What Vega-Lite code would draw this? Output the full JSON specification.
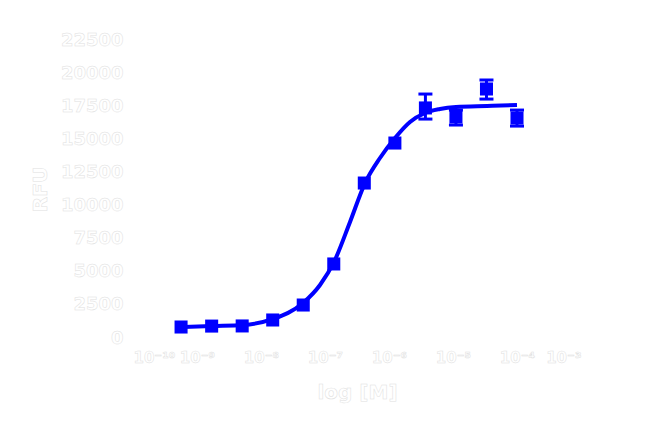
{
  "$schema": "https://vega.github.io/schema/vega-lite/v6.json",
  "autosize": "none",
  "width": 448,
  "height": 298,
  "padding": {"left": 133, "top": 40, "right": 69, "bottom": 96},
  "background": "white",
  "config": {
    "view": {"stroke": null},
    "axis": {
      "grid": false,
      "domainColor": "white",
      "tickColor": "white",
      "labelColor": "white",
      "titleColor": "white",
      "labelFont": "DejaVu Sans",
      "titleFont": "DejaVu Sans",
      "labelFontSize": 18,
      "titleFontSize": 20,
      "labelFontWeight": "bold",
      "titleFontWeight": "bold",
      "labelOverlap": false
    }
  },
  "datasets": {
    "points": [
      {"logM": -9.249, "rfu": 830},
      {"logM": -8.771, "rfu": 900},
      {"logM": -8.294, "rfu": 910},
      {"logM": -7.817, "rfu": 1360},
      {"logM": -7.340, "rfu": 2490},
      {"logM": -6.863, "rfu": 5590},
      {"logM": -6.386, "rfu": 11700},
      {"logM": -5.908, "rfu": 14720},
      {"logM": -5.431, "rfu": 17370, "lo": 16530, "hi": 18420},
      {"logM": -4.954, "rfu": 16690, "lo": 16080, "hi": 17210},
      {"logM": -4.477, "rfu": 18800, "lo": 18040, "hi": 19480},
      {"logM": -4.0, "rfu": 16610, "lo": 16000, "hi": 17210}
    ],
    "curve": [
      {"logM": -9.234, "rfu": 830},
      {"logM": -8.766, "rfu": 906},
      {"logM": -8.281, "rfu": 980},
      {"logM": -7.8125, "rfu": 1435},
      {"logM": -7.344, "rfu": 2640},
      {"logM": -7.078, "rfu": 4000},
      {"logM": -6.859, "rfu": 5740},
      {"logM": -6.609, "rfu": 8760},
      {"logM": -6.375, "rfu": 11700},
      {"logM": -6.141, "rfu": 13590},
      {"logM": -5.906, "rfu": 15100},
      {"logM": -5.672, "rfu": 16310},
      {"logM": -5.4375, "rfu": 16990},
      {"logM": -5.203, "rfu": 17290},
      {"logM": -4.953, "rfu": 17440},
      {"logM": -4.469, "rfu": 17520},
      {"logM": -4.0, "rfu": 17590}
    ]
  },
  "encoding": {
    "x": {
      "field": "logM",
      "type": "quantitative",
      "scale": {"domain": [-10, -3], "nice": false, "zero": false},
      "axis": {
        "title": "log [M]",
        "values": [-10, -9, -8, -7, -6, -5, -4, -3],
        "labelExpr": "'10' + ['⁻¹⁰','⁻⁹','⁻⁸','⁻⁷','⁻⁶','⁻⁵','⁻⁴','⁻³'][datum.value + 10]",
        "labelFontSize": 15,
        "tickSize": 6,
        "labelPadding": 6,
        "titlePadding": 17,
        "encoding": {
          "labels": {"stroke": {"value": "#e0e0e0"}, "strokeWidth": {"value": 0.5}},
          "title": {"stroke": {"value": "#e0e0e0"}, "strokeWidth": {"value": 0.5}}
        }
      }
    },
    "y": {
      "field": "rfu",
      "type": "quantitative",
      "scale": {"domain": [0, 22500], "nice": false},
      "axis": {
        "title": "RFU",
        "format": "d",
        "values": [0, 2500, 5000, 7500, 10000, 12500, 15000, 17500, 20000, 22500],
        "tickSize": 6,
        "labelPadding": 4,
        "titlePadding": 10,
        "encoding": {
          "labels": {"stroke": {"value": "#e0e0e0"}, "strokeWidth": {"value": 0.5}},
          "title": {"stroke": {"value": "#e0e0e0"}, "strokeWidth": {"value": 0.5}}
        }
      }
    }
  },
  "layer": [
    {
      "data": {"name": "curve"},
      "mark": {"type": "line", "color": "#0000ff", "strokeWidth": 4, "interpolate": "monotone"}
    },
    {
      "data": {"name": "points"},
      "transform": [{"filter": "isValid(datum.lo)"}],
      "mark": {"type": "errorbar", "color": "#0000ff", "opacity": 1, "thickness": 3, "ticks": {"size": 14, "thickness": 3, "color": "#0000ff", "opacity": 1}},
      "encoding": {
        "y": {"field": "lo", "type": "quantitative"},
        "y2": {"field": "hi"}
      }
    },
    {
      "data": {"name": "points"},
      "mark": {"type": "square", "color": "#0000ff", "filled": true, "opacity": 1, "size": 170}
    }
  ]
}
